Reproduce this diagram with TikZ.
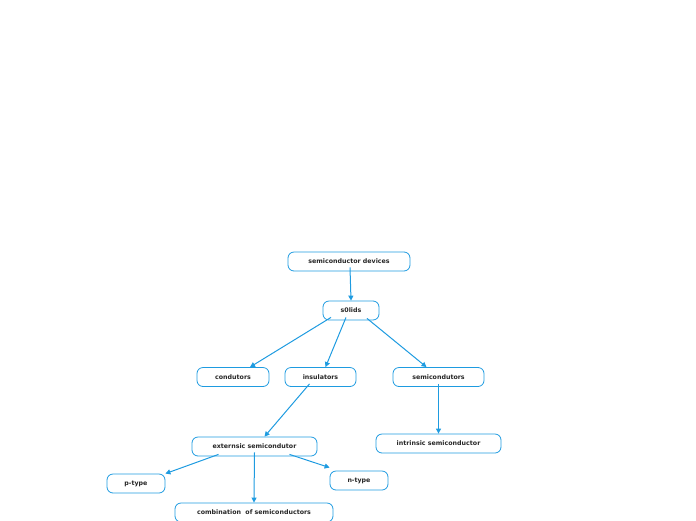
\documentclass[tikz,border=0pt]{standalone}
\usepackage{fontspec}
\setmainfont{DejaVu Sans}
\usetikzlibrary{arrows.meta}
\definecolor{lb}{HTML}{1E9BE0}
\begin{document}
\begin{tikzpicture}[x=1pt,y=-1pt,
  box/.style={draw=lb,line width=0.8pt,rounded corners=6pt,minimum height=19pt,inner sep=0pt,font=\fontsize{6.3}{7}\selectfont\bfseries,text=black!85},
  conn/.style={draw=lb,line width=1pt,-{Triangle[length=5pt,width=5pt]}}]
\useasboundingbox (0,0) rectangle (696,520);
\node[box,minimum width=122pt] (sd) at (349,261.5) {semiconductor devices};
\node[box,minimum width=56pt] (so) at (351,310.5) {s0lids};
\node[box,minimum width=72pt] (co) at (233,377) {condutors};
\node[box,minimum width=71pt] (in) at (320.5,377) {insulators};
\node[box,minimum width=91pt] (se) at (438.5,377) {semicondutors};
\node[box,minimum width=125pt] (is) at (438.5,443.5) {intrinsic semiconductor};
\node[box,minimum width=125pt] (ex) at (254.5,446.5) {externsic semicondutor};
\node[box,minimum width=58pt] (pt) at (136,483.5) {p-type};
\node[box,minimum width=58pt] (nt) at (359,480.5) {n-type};
\node[box,minimum width=158pt] (cb) at (254,512.5) {combination\ \ of semiconductors};
\draw[conn] ([xshift=1pt,yshift=4pt]sd.south) -- ([xshift=0pt]so.north);
\draw[conn] ([xshift=-20pt,yshift=3pt]so.south) -- ([xshift=17pt]co.north);
\draw[conn] ([xshift=-5pt,yshift=3pt]so.south) -- ([xshift=5pt]in.north);
\draw[conn] ([xshift=16pt,yshift=2pt]so.south) -- ([xshift=-12pt]se.north);
\draw[conn] ([yshift=3pt]se.south) -- (is.north);
\draw[conn] ([xshift=-11pt,yshift=3pt]in.south) -- ([xshift=10pt]ex.north);
\draw[conn] ([xshift=-36pt,yshift=2pt]ex.south) -- (pt.north east);
\draw[conn] ([xshift=0pt,yshift=4pt]ex.south) -- (cb.north);
\draw[conn] ([xshift=35pt,yshift=2pt]ex.south) -- ([yshift=3pt]nt.north west);
\end{tikzpicture}
\end{document}
